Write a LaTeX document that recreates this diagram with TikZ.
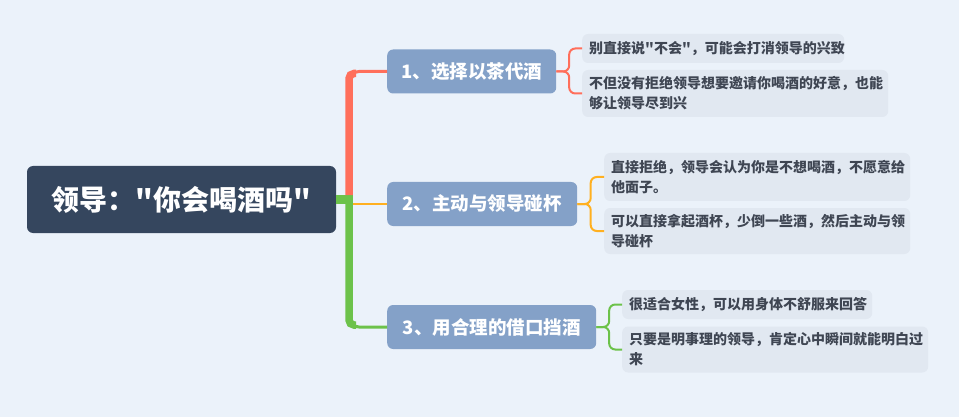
\documentclass[tikz,border=0pt]{standalone}
\usepackage{fontspec}
\newfontfamily\cjk{Noto Sans CJK SC}
\usetikzlibrary{calc}

\definecolor{bgblue}{HTML}{EBF2FA}
\definecolor{rootfill}{HTML}{35465E}
\definecolor{branchfill}{HTML}{84A1C8}
\definecolor{leaffill}{HTML}{E1E8F1}
\definecolor{leaftext}{HTML}{3F4653}
\definecolor{linered}{HTML}{FF6F5B}
\definecolor{lineorange}{HTML}{FFB020}
\definecolor{linegreen}{HTML}{6CC24A}

\begin{document}
\begin{tikzpicture}[x=1pt,y=-1pt,
    rootbox/.style={fill=rootfill, text=white, rounded corners=6, minimum width=309,
      minimum height=67, inner sep=0, font=\cjk\bfseries\fontsize{28}{32}\selectfont},
    branchbox/.style={fill=branchfill, text=white, rounded corners=6, minimum height=44,
      inner sep=0, anchor=west, font=\cjk\bfseries\fontsize{18.5}{22}\selectfont},
    leafbox/.style={fill=leaffill, text=leaftext, rounded corners=6, inner xsep=7,
      inner ysep=0, anchor=west, align=left, font=\cjk\bfseries\fontsize{14}{20}\selectfont},
    trunk/.style={line width=7.5, rounded corners=5},
    twig/.style={line width=3, rounded corners=10},
    bracket/.style={line width=2, rounded corners=6}]
          \fill[bgblue] (0,0) rectangle (959,417);
          \useasboundingbox (0,0) rectangle (959,417);
          \node[rootbox] (root) at (181.5,199.5) {领导："你会喝酒吗"};
          \node[branchbox, minimum width=169] (b1) at (387,71.5) {1、选择以茶代酒};
          \node[branchbox, minimum width=190] (b2) at (387,204) {2、主动与领导碰杯};
          \node[branchbox, minimum width=209] (b3) at (387,327) {3、用合理的借口挡酒};
          \node[leafbox, text width=248, minimum height=29] (l1a) at (582,48.5)
            {别直接说"不会"，可能会打消领导的兴致};
          \node[leafbox, text width=292, minimum height=47] (l1b) at (582,93.5)
            {不但没有拒绝领导想要邀请你喝酒的好意，也能\\够让领导尽到兴};
          \node[leafbox, text width=292, minimum height=48] (l2a) at (604,177)
            {直接拒绝，领导会认为你是不想喝酒，不愿意给\\他面子。};
          \node[leafbox, text width=292, minimum height=46] (l2b) at (604,231)
            {可以直接拿起酒杯，少倒一些酒，然后主动与领\\导碰杯};
          \node[leafbox, text width=236, minimum height=29] (l3a) at (622,304.5)
            {很适合女性，可以用身体不舒服来回答};
          \node[leafbox, text width=292, minimum height=46] (l3b) at (622,349.5)
            {只要是明事理的领导，肯定心中瞬间就能明白过\\来};
          %% trunk from the root
          \coordinate (hub)  at (349,195.5);
          \coordinate (stub) at (353,199.5);
          \draw[linegreen, line width=8] (root.east) -- (stub);
          \draw[linered, twig] (hub) |- (b1.west);
          \draw[linered, trunk] (hub) |- ($(hub |- b1.west)+(7,2)$);
          \draw[lineorange, line width=2.5] (stub |- b2.west) -- (b2.west);
          \draw[linegreen, twig] (hub) |- (b3.west);
          \draw[linegreen, trunk] (hub) |- ($(hub |- b3.west)+(7,-2)$);
          %% brackets to the leaves
          \draw[linered, bracket] (b1.east) -- ($(b1.east)!.5!(b1.east -| l1a.west)$) |- (l1a.west);
          \draw[linered, bracket] (b1.east) -- ($(b1.east)!.5!(b1.east -| l1b.west)$) |- (l1b.west);
          \draw[lineorange, bracket] (b2.east) -- ($(b2.east)!.5!(b2.east -| l2a.west)$) |- (l2a.west);
          \draw[lineorange, bracket] (b2.east) -- ($(b2.east)!.5!(b2.east -| l2b.west)$) |- (l2b.west);
          \draw[linegreen, bracket] (b3.east) -- ($(b3.east)!.5!(b3.east -| l3a.west)$) |- (l3a.west);
          \draw[linegreen, bracket] (b3.east) -- ($(b3.east)!.5!(b3.east -| l3b.west)$) |- (l3b.west);
        \end{tikzpicture}
\end{document}
